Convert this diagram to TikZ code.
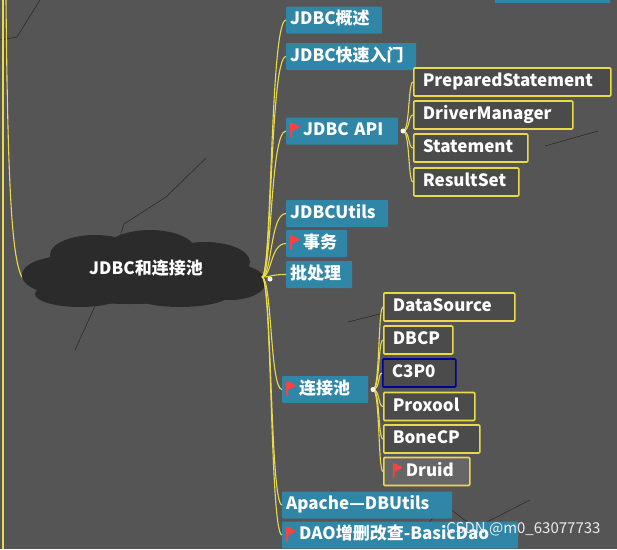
\documentclass[tikz,border=0pt]{standalone}
\usepackage{fontspec}
\setmainfont{Noto Sans CJK SC}
\definecolor{bg}{HTML}{555555}
\definecolor{teal}{HTML}{2F86A6}
\definecolor{yel}{HTML}{E9DA4C}
\definecolor{sub}{HTML}{4B4B4B}
\definecolor{cloudc}{HTML}{2B2B2B}
\tikzset{
 main/.style={fill=teal,text=white,font=\bfseries\fontsize{17}{18}\selectfont,anchor=west,inner xsep=4pt,inner ysep=0pt,align=left,minimum height=27pt,text height=12pt,text depth=3pt,rounded corners=1pt},
 subb/.style={fill=sub,draw=yel,line width=1.6pt,text=white,font=\bfseries\fontsize{17}{18}\selectfont,anchor=west,inner xsep=9pt,inner ysep=0pt,align=left,minimum height=28pt,text height=12pt,text depth=3pt,rounded corners=1pt},
 br/.style={draw=yel,line width=1.1pt},
 thin/.style={draw=black!85,line width=0.5pt},
}
\newcommand{\flagg}{\tikz[baseline=0pt,x=1pt,y=1pt]{\fill[red!75!white] (0,-2) rectangle (1.8,13);\fill[red!75!white] (1.8,13)--(10,8.5)--(1.8,4)--cycle;}\hspace{3pt}}
\begin{document}
\begin{tikzpicture}[x=1pt,y=-1pt]
\useasboundingbox[fill=bg] (0,0) rectangle (617,549);
% thin decorative lines
\draw[thin] (0,40)--(17,37)--(40,0);
\draw[thin] (75,350)--(105,284)--(124,224)--(166,197)--(206,158);
\draw[thin] (348,322)--(435,300);
\draw[thin] (545,146)--(598,131);
\draw[thin] (420,532)--(445,505)--(475,528)--(530,500);
% top right teal
\fill[teal] (495,-3) rectangle (610,3);
% left lines
\draw[br] (3,0)--(3,549);
\draw[br] (6,0) .. controls (8,200) and (12,300) .. (32,278);
% cloud
\begin{scope}[fill=cloudc]
\fill (130,276) ellipse (108 and 28);
\fill (95,255) ellipse (45 and 20);
\fill (150,250) ellipse (45 and 20);
\fill (205,262) ellipse (45 and 20);
\fill (60,275) ellipse (38 and 18);
\fill (230,282) ellipse (36 and 18);
\fill (80,294) ellipse (45 and 13);
\fill (180,294) ellipse (50 and 13);
\end{scope}
\node[text=white,font=\bfseries\fontsize{17}{18}\selectfont] (ct) at (146,268) {JDBC和连接池};
\coordinate (hub) at (262,277);
\coordinate (k1) at (270,0);
\coordinate (k2) at (408,0);
\coordinate (k3) at (378,0);
% main nodes
\node[main,text width=88pt] (n1) at (286,20) {JDBC概述};
\node[main,text width=122pt] (n2) at (286,56.5) {JDBC快速入门};
\node[main,text width=104pt] (n3) at (286,131) {\flagg JDBC API};
\node[main,text width=94pt] (n4) at (286,213.5) {JDBCUtils};
\node[main,text width=53pt] (n5) at (286,243.5) {\flagg 事务};
\node[main,text width=58pt] (n6) at (286,274.5) {批处理};
\node[main,text width=78pt] (n7) at (282,389.5) {\flagg 连接池};
\node[main,text width=162pt] (n8) at (282,505) {Apache—DBUtils};
\node[main,text width=228pt] (n9) at (282,535) {\flagg DAO增删改查-BasicDao};
\foreach \n in {n1,n2,n3,n4,n5,n6,n7,n8,n9}{
 \draw[br] (hub) .. controls (272,277) and (\n.west -| k1) .. (\n.west);
}
% sub nodes API
\node[subb,text width=179pt] (a1) at (413,82) {PreparedStatement};
\node[subb,text width=141pt] (a2) at (413,115) {DriverManager};
\node[subb,text width=96pt] (a3) at (413,148) {Statement};
\node[subb,text width=87pt] (a4) at (413,182) {ResultSet};
\coordinate (d1) at (403,131);
\foreach \n in {a1,a2,a3,a4}{\draw[br] (d1) .. controls (410,131) and (\n.west -| k2) .. (\n.west);}
\fill[white!85!yel] (d1) circle (2.5pt);
% sub nodes pool
\node[subb,text width=113pt] (p1) at (383,307) {DataSource};
\node[subb,text width=51pt] (p2) at (383,340) {DBCP};
\node[subb,draw=blue!60!black,text width=55pt] (p3) at (382,373) {C3P0};
\node[subb,text width=73pt] (p4) at (383,406.5) {Proxool};
\node[subb,text width=78pt] (p5) at (383,439) {BoneCP};
\node[subb,fill=gray!80!black,text width=68pt] (p6) at (383,471.5) {\flagg Druid};
\coordinate (d2) at (373,389.5);
\foreach \n in {p1,p2,p3,p4,p5,p6}{\draw[br] (d2) .. controls (380,389.5) and (\n.west -| k3) .. (\n.west);}
\fill[white!85!yel] (d2) circle (2.5pt);
\fill[white!85!yel] (270,279) circle (2.5pt);
\node[text=white!85!gray,font=\fontsize{15}{16}\selectfont,anchor=east] (wm) at (604,529) {CSDN @m0\_63077733};
\end{tikzpicture}
\end{document}
